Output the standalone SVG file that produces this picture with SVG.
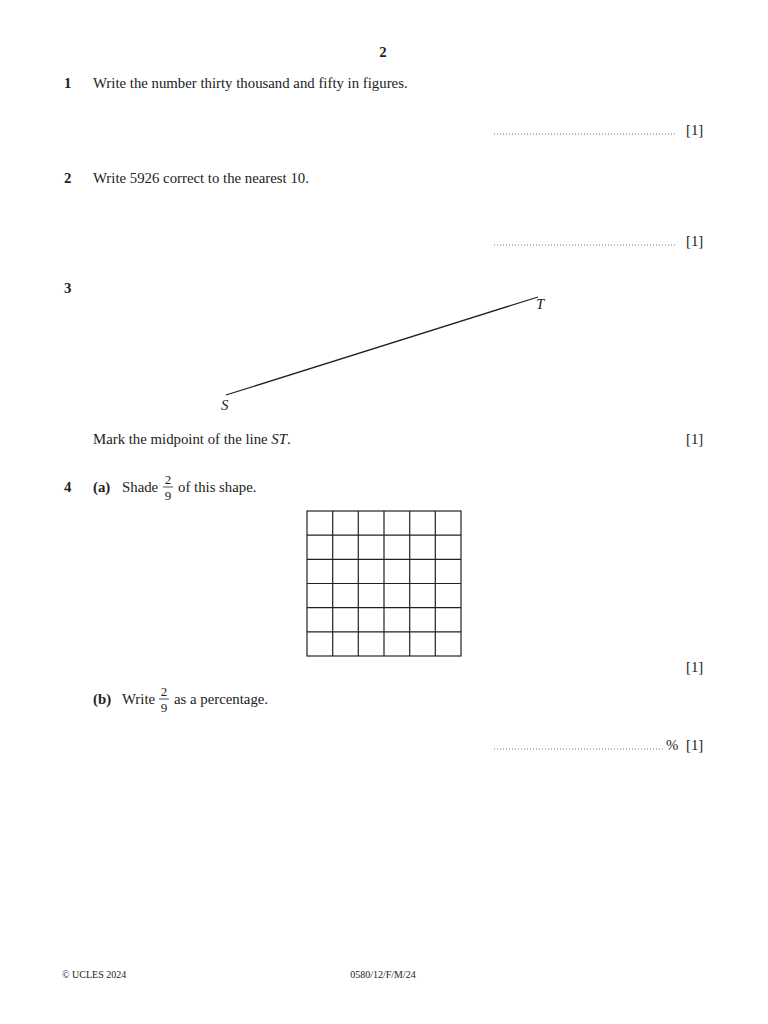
<svg xmlns="http://www.w3.org/2000/svg" width="768" height="1024" viewBox="0 0 768 1024">
<style>
text{font-family:"Liberation Serif","Times New Roman",serif;font-size:14.8px;fill:#222}
.b{font-weight:bold}
.s{font-size:10px}
.f{font-size:13px}
.d{stroke:#555;stroke-width:0.8;stroke-dasharray:1 2}
.g{stroke:#222;stroke-width:1.2;fill:none}
</style>
<rect width="768" height="1024" fill="#fff"/>
<text x="383" y="57" class="b" text-anchor="middle">2</text>
<text x="64" y="88" class="b">1</text>
<text x="93" y="88">Write the number thirty thousand and fifty in figures.</text>
<line x1="494" y1="134" x2="675" y2="134" class="d"/>
<text x="686" y="135">[1]</text>
<text x="64" y="183" class="b">2</text>
<text x="93" y="183">Write 5926 correct to the nearest 10.</text>
<line x1="494" y1="245" x2="675" y2="245" class="d"/>
<text x="686" y="246">[1]</text>
<text x="64" y="293" class="b">3</text>
<line x1="226" y1="395" x2="538" y2="297" stroke="#222" stroke-width="1.3"/>
<text x="536" y="309" font-style="italic">T</text>
<text x="221" y="410" font-style="italic">S</text>
<text x="93" y="444">Mark the midpoint of the line <tspan font-style="italic">ST</tspan>.</text>
<text x="686" y="444">[1]</text>
<text x="64" y="492" class="b">4</text>
<text x="93" y="492" class="b">(a)</text>
<text x="122" y="492">Shade</text>
<text x="168" y="484" class="f" text-anchor="middle">2</text>
<line x1="163" y1="487" x2="173" y2="487" stroke="#222" stroke-width="0.8"/>
<text x="168" y="500" class="f" text-anchor="middle">9</text>
<text x="178" y="492">of this shape.</text>
<g class="g">
<rect x="307" y="511" width="154" height="145"/>
<path d="M332.7 511V656M358.3 511V656M384 511V656M409.7 511V656M435.3 511V656M307 535.2H461M307 559.3H461M307 583.5H461M307 607.7H461M307 631.8H461"/>
</g>
<text x="686" y="672">[1]</text>
<text x="93" y="704" class="b">(b)</text>
<text x="122" y="704">Write</text>
<text x="164" y="696" class="f" text-anchor="middle">2</text>
<line x1="159" y1="699" x2="169" y2="699" stroke="#222" stroke-width="0.8"/>
<text x="164" y="712" class="f" text-anchor="middle">9</text>
<text x="174" y="704">as a percentage.</text>
<line x1="494" y1="749" x2="665" y2="749" class="d"/>
<text x="666" y="750">%</text>
<text x="686" y="750">[1]</text>
<text x="62" y="978" class="s">© UCLES 2024</text>
<text x="383" y="978" class="s" text-anchor="middle">0580/12/F/M/24</text>
</svg>
